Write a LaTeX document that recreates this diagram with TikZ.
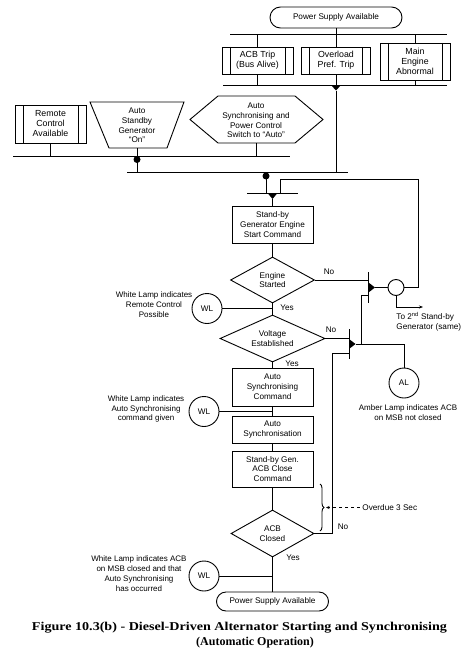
\documentclass[tikz,border=0pt]{standalone}
\usepackage{fontspec}
\setmainfont{Liberation Sans}
\newfontfamily\capfont{Liberation Serif}
\usetikzlibrary{shapes.geometric,shapes.misc,decorations.pathreplacing,arrows.meta}
\begin{document}
\begin{tikzpicture}[x=1pt,y=-1pt,line width=0.9pt,
  txt/.style={font=\fontsize{8.2}{9.8}\selectfont,align=center,inner sep=0pt},
  bigtxt/.style={font=\fontsize{8.8}{10}\selectfont,align=center,inner sep=0pt},
  smalltxt/.style={font=\fontsize{8}{9.8}\selectfont,align=center,inner sep=0pt},
  procbox/.style={draw,rectangle,txt,minimum width=81pt},
  pbox/.style={draw,rectangle,bigtxt,minimum width=71pt,
    path picture={
      \draw[line width=0.9pt] ([xshift=8pt]path picture bounding box.north west) -- ([xshift=8pt]path picture bounding box.south west);
      \draw[line width=0.9pt] ([xshift=-8pt]path picture bounding box.north east) -- ([xshift=-8pt]path picture bounding box.south east);}},
  decision/.style={draw,diamond,txt},
  lamp/.style={draw,circle,txt,minimum size=30pt},
  term/.style={draw,rounded rectangle,txt},
  jdot/.style={fill,circle,inner sep=0pt,minimum size=7pt},
  lbl/.style={txt}
]
\useasboundingbox (0,0) rectangle (474,669);
\fill[white] (0,0) rectangle (474,669);

% ---------- top group ----------
\node[term,minimum width=132pt,minimum height=21pt] (psa) at (336,17.5) {Power Supply Available};
\coordinate (b0l) at (230,34); \coordinate (b0r) at (447,34);
\draw (b0l) -- (b0r);
\draw (psa.south) -- (psa.south |- b0l);

\node[pbox,minimum height=27pt] (acb) at (257.5,60.5) {ACB Trip\\(Bus Alive)};
\node[pbox,minimum width=69pt,minimum height=27pt] (ovl) at (336,60.5) {Overload\\Pref. Trip};
\node[pbox,minimum width=70pt,minimum height=37pt] (meng) at (415,61.5) {Main\\Engine\\Abnormal};
\foreach \n in {acb,ovl,meng} \draw (\n.north) -- (\n.north |- b0l);

\coordinate (b1l) at (223,85); \coordinate (b1r) at (447,85);
\draw (b1l) -- (b1r);
\foreach \n in {acb,ovl,meng} \draw (\n.south) -- (\n.south |- b1l);
\coordinate (t1) at (336,85);
\fill ([xshift=-5pt]t1) -- ([xshift=5pt]t1) -- ([yshift=-5.5pt]t1) -- cycle;

% ---------- second group ----------
\node[pbox,minimum height=38pt] (rem) at (50.5,124) {Remote\\Control\\Available};
\coordinate (trtl) at (90,102); \coordinate (trtr) at (184,102);
\coordinate (trbr) at (167,148); \coordinate (trbl) at (109,148);
\draw (trtl) -- (trtr) -- (trbr) -- (trbl) -- cycle;
\node[txt] (asg) at (137,125.5) {Auto\\Standby\\Generator\\“On”};
\coordinate (asgb) at (137,148);
\draw (190,119.5) -- (218,96) -- (295,96) -- (323,119.5) -- (295,143) -- (218,143) -- cycle;
\node[txt] (hex) at (256,120.5) {Auto\\Synchronising and\\Power Control\\Switch to “Auto”};
\coordinate (hexb) at (256,143);

\coordinate (b2l) at (13,156); \coordinate (b2r) at (290,156);
\draw (b2l) -- (b2r);
\draw (rem.south) -- (rem.south |- b2l);
\draw (asgb) -- (asgb |- b2l);
\draw (hexb) -- (hexb |- b2l);
\node[jdot] (d1) at (137,159.5) {};

\coordinate (b3l) at (127,172); \coordinate (b3r) at (348,172);
\draw (b3l) -- (b3r);
\draw (137,156) -- (137,172);
\draw ([yshift=-5.5pt]t1) -- (t1 |- b3l);
\node[jdot] (d2) at (266,176) {};

% ---------- gate A ----------
\coordinate (ga) at (272.5,193);
\draw (247,193) -- (298,193);
\draw (266,172) -- (266,193);
\fill ([xshift=-5pt]ga) -- ([xshift=5pt]ga) -- ([yshift=-6pt]ga) -- cycle;

% ---------- main column ----------
\node[procbox,minimum height=37pt] (start) at (272.5,224.5) {Stand-by\\Generator Engine\\Start Command};
\draw ([yshift=-6pt]ga) -- (start.north);
\node[decision,minimum width=84pt,minimum height=46pt,aspect=1.8] (es) at (272.5,280) {Engine\\Started};
\draw (start.south) -- (es.north);
\node[decision,minimum width=105pt,minimum height=47pt,aspect=2.2] (ve) at (272.5,338.5) {Voltage\\Established};
\draw (es.south) -- (ve.north);
\node[procbox,minimum height=38pt] (asc) at (272.5,387) {Auto\\Synchronising\\Command};
\draw (ve.south) -- (asc.north);
\node[procbox,minimum height=27pt] (as) at (272.5,429.5) {Auto\\Synchronisation};
\draw (asc.south) -- (as.north);
\node[procbox,minimum height=36pt] (acc) at (272.5,469) {Stand-by Gen.\\ACB Close\\Command};
\draw (as.south) -- (acc.north);
\node[decision,minimum width=83pt,minimum height=47pt,aspect=1.8] (acbc) at (272.5,533.5) {ACB\\Closed};
\draw (acc.south) -- (acbc.north);
\node[term,minimum width=112pt,minimum height=19pt] (psa2) at (272.5,601.5) {Power Supply Available};
\draw (acbc.south) -- (psa2.north);

\node[lbl] at (287,308) {Yes};
\node[lbl] at (292,363.5) {Yes};
\node[lbl] at (293,558) {Yes};
\node[lbl] at (329,272) {No};
\node[lbl] at (331,329.5) {No};
\node[lbl] at (343,527) {No};

% ---------- lamps ----------
\node[lamp] (wl1) at (207,308.5) {WL};
\draw (wl1.east) -- (272.5,308.5);
\node[smalltxt] (wl1t) at (154,304.5) {White Lamp indicates\\Remote Control\\Possible};
\node[lamp] (wl2) at (204,411.5) {WL};
\draw (wl2.east) -- (272.5,411.5);
\node[smalltxt] (wl2t) at (146,409) {White Lamp indicates\\Auto Synchronising\\command given};
\node[lamp] (wl3) at (204,576) {WL};
\draw (wl3.east) -- (272.5,576);
\node[smalltxt] (wl3t) at (139,573.5) {White Lamp indicates ACB\\on MSB closed and that\\Auto Synchronising\\has occurred};

% ---------- gate B ----------
\coordinate (gb) at (368.5,287.5);
\draw (368.5,272) -- (368.5,303);
\draw (es.east) -- (es.east -| gb);
\fill ([yshift=-5pt]gb) -- ([yshift=5pt]gb) -- ([xshift=6.5pt]gb) -- cycle;
\node[draw,circle,minimum size=16pt,inner sep=0pt] (sc) at (396,287.5) {};
\draw ([xshift=6.5pt]gb) -- (sc.west);
\coordinate (fb1) at (418,287.5); \coordinate (fb2) at (418,179); \coordinate (fb3) at (280,179);
\draw (sc.east) -- (fb1) -- (fb2) -- (fb3) -- (fb3 |- ga);
\coordinate (to2) at (423,307);
\draw[-{Stealth[length=4pt,width=3pt]}] (sc.south) -- (sc.south |- to2) -- (to2);
\node[txt,align=left,anchor=west] (to2t) at (396,322) {To 2\textsuperscript{nd} Stand-by\\Generator (same)};

% ---------- gate C ----------
\coordinate (gc) at (349,344);
\draw (349,329) -- (349,359);
\draw (ve.east) -- (ve.east -| gc);
\fill ([yshift=-5pt]gc) -- ([yshift=5pt]gc) -- ([xshift=6.5pt]gc) -- cycle;
\node[lamp] (al) at (404,383) {AL};
\draw ([xshift=6.5pt]gc) -- (al.north |- gc) -- (al.north);
\draw (361.5,344) -- (361.5,295.5) -- (368.5,295.5);
\node[smalltxt] (alt) at (408,412.5) {Amber Lamp indicates ACB\\on MSB not closed};
\coordinate (nc) at (332,533.5);
\draw (acbc.east) -- (nc) -- (332,353) -- (349,353);

% ---------- overdue ----------
\draw[decorate,decoration={brace,amplitude=4pt}] (320,484) -- (320,531);
\draw[dashed,-{Stealth[length=3.5pt,width=3pt]}] (360,507.5) -- (326,507.5);
\node[txt,anchor=west] (ovd) at (362,507.5) {Overdue 3 Sec};

% ---------- caption ----------
\node[inner sep=0pt,font=\capfont\bfseries\fontsize{12}{14}\selectfont] (cap1) at (239.5,628)
  {\resizebox{415pt}{\height}{Figure 10.3(b) - Diesel-Driven Alternator Starting and Synchronising}};
\node[inner sep=0pt,font=\capfont\bfseries\fontsize{12}{14}\selectfont] (cap2) at (255,643) {(Automatic Operation)};
\end{tikzpicture}
\end{document}
